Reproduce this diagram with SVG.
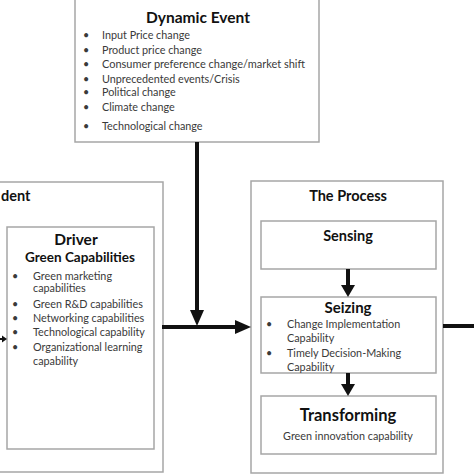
<svg xmlns="http://www.w3.org/2000/svg" width="474" height="474" viewBox="0 0 474 474">
<style>
.box{fill:#fff;stroke:#a6a6a6;stroke-width:1.5}
.t{font-family:Lato,"Liberation Sans",sans-serif;font-weight:bold;fill:#111;text-anchor:middle}
.b{font-family:Lato,"Liberation Sans",sans-serif;font-size:10.8px;fill:#3a3a3a}
.c{text-anchor:middle}
.ln{stroke:#111;stroke-width:4;fill:none}
.hd{fill:#111}
</style>
<rect width="474" height="474" fill="#fff"/>
<g id="dynamic-event">
<rect class="box" x="75" y="-5" width="244" height="147"/>
<text class="t" x="198" y="23" font-size="15.5">Dynamic Event</text>
<g class="b">
<text x="83" y="39">•</text><text x="102" y="39">Input Price change</text>
<text x="83" y="54">•</text><text x="102" y="54">Product price change</text>
<text x="83" y="68">•</text><text x="102" y="68" textLength="203" lengthAdjust="spacingAndGlyphs">Consumer preference change/market shift</text>
<text x="83" y="83">•</text><text x="102" y="83">Unprecedented events/Crisis</text>
<text x="83" y="96">•</text><text x="102" y="96">Political change</text>
<text x="83" y="111">•</text><text x="102" y="111">Climate change</text>
<text x="83" y="130">•</text><text x="102" y="130">Technological change</text>
</g>
</g>
<g id="antecedent">
<rect class="box" x="-5" y="182" width="168" height="290"/>
<text class="t" x="1" y="201" font-size="14.5" style="text-anchor:start">dent</text>
</g>
<g id="driver">
<rect class="box" x="7" y="227" width="147" height="222"/>
<text class="t" x="76" y="245" font-size="15.5">Driver</text>
<text class="t" x="80" y="262" font-size="13.5">Green Capabilities</text>
<g class="b">
<text x="12" y="280">•</text><text x="33" y="280">Green marketing</text>
<text x="33" y="292">capabilities</text>
<text x="12" y="308">•</text><text x="33" y="308">Green R&amp;D capabilities</text>
<text x="12" y="322">•</text><text x="33" y="322">Networking capabilities</text>
<text x="12" y="336">•</text><text x="33" y="336">Technological capability</text>
<text x="12" y="351">•</text><text x="33" y="351">Organizational learning</text>
<text x="33" y="365">capability</text>
</g>
</g>
<g id="process">
<rect class="box" x="251" y="181" width="192" height="292"/>
<text class="t" x="348" y="201" font-size="14.5">The Process</text>
</g>
<g id="sensing">
<rect class="box" x="261" y="221" width="175" height="48"/>
<text class="t" x="348" y="241" font-size="14.5">Sensing</text>
</g>
<g id="seizing">
<rect class="box" x="261" y="297" width="175" height="76"/>
<text class="t" x="348" y="313" font-size="15">Seizing</text>
<g class="b">
<text x="266" y="328">•</text><text x="287" y="328">Change Implementation</text>
<text x="287" y="342">Capability</text>
<text x="266" y="357">•</text><text x="287" y="357">Timely Decision-Making</text>
<text x="287" y="371">Capability</text>
</g>
</g>
<g id="transforming">
<rect class="box" x="261" y="396" width="175" height="58"/>
<text class="t" x="348" y="421" font-size="16.5">Transforming</text>
<text class="b c" x="348" y="440">Green innovation capability</text>
</g>
<g id="connectors">
<line class="ln" x1="197" y1="142" x2="197" y2="312"/>
<polygon class="hd" points="190,310 204,310 197,326"/>
<line class="ln" x1="162" y1="327" x2="236" y2="327"/>
<polygon class="hd" points="235,320 235,334 251,327"/>
<line class="ln" x1="348" y1="269" x2="348" y2="286"/>
<polygon class="hd" points="341,285 355,285 348,297"/>
<line class="ln" x1="348" y1="373" x2="348" y2="385"/>
<polygon class="hd" points="341,384 355,384 348,396"/>
<line stroke="#111" stroke-width="2" x1="0" y1="339" x2="3" y2="339"/>
<polygon class="hd" points="2,335.5 2,342.5 7,339"/>
<line class="ln" x1="443" y1="326" x2="474" y2="326"/>
</g>
</svg>
